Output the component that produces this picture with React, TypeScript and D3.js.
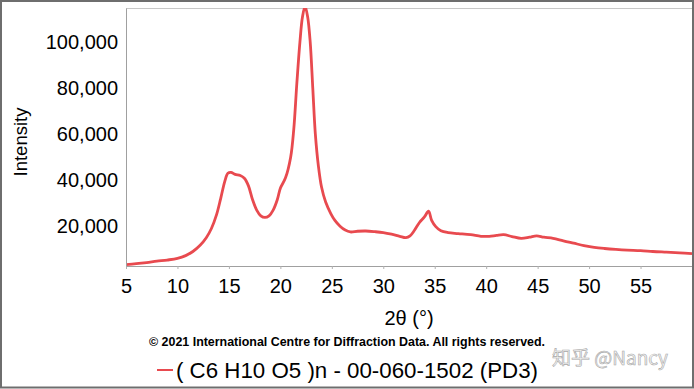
import React, { useEffect, useRef } from "react";
import * as d3 from "d3";

const twoTheta = [
  5.0, 6.0, 7.0, 8.0, 9.0, 10.0, 10.8, 11.5, 12.2, 12.8, 13.3, 13.8, 14.2, 14.6,
  14.9, 15.2, 15.6, 16.1, 16.5, 16.9, 17.3, 17.7, 18.1, 18.5, 18.9, 19.3, 19.7,
  20.0, 20.5, 21.0, 21.3, 21.6, 21.9, 22.15, 22.4, 22.65, 22.9, 23.15, 23.4,
  23.7, 24.0, 24.4, 24.9, 25.3, 25.8, 26.3, 26.8, 27.5, 28.3, 29.2, 30.0, 30.8,
  31.6, 32.2, 32.6, 33.0, 33.5, 34.0, 34.4, 34.7, 35.1, 35.6, 36.3, 37.3, 38.5,
  39.5, 40.3, 41.0, 41.7, 42.5, 43.4, 44.2, 44.9, 45.6, 46.5, 47.5, 48.5, 49.5,
  50.5, 51.5, 52.6, 53.7, 55.0, 56.2, 57.5, 58.8, 60.0,
];
const intensity = [
  3300, 3700, 4200, 4800, 5300, 6000, 7200, 9000, 11700, 15000, 19000, 25000,
  32000, 39500, 43000, 43400, 42500, 42000, 40800, 37500, 31500, 27000, 24500,
  23800, 24500, 27000, 31500, 36500, 41000, 50000, 62000, 82000, 100000, 111000,
  115500, 111000, 100000, 80000, 60000, 46000, 37000, 30500, 25500, 22500, 20000,
  18300, 17500, 17800, 17900, 17600, 17200, 16500, 15600, 15000, 15800, 18000,
  21500, 24000, 26500, 22500, 19800, 18000, 17200, 16800, 16300, 15600, 15600,
  16000, 16300, 15500, 14700, 15200, 15800, 15200, 14700, 13600, 12600, 11600,
  10800, 10300, 9900, 9600, 9400, 9000, 8700, 8400, 8100,
];
const xTicks = [5, 10, 15, 20, 25, 30, 35, 40, 45, 50, 55];
const yTicks = [20000, 40000, 60000, 80000, 100000];

const seriesLabel = "( C6 H10 O5 )n - 00-060-1502 (PD3)";
const copyright = "© 2021 International Centre for Diffraction Data. All rights reserved.";
const watermark = "知乎 @Nancy";

const W = 694;
const H = 389;
const margin = { top: 8, right: 2, bottom: 123, left: 126 };
const font = "'Liberation Sans', Arial, sans-serif";
const lineColor = "#e84a4f";

const App = () => {
  const ref = useRef<SVGSVGElement>(null);

  useEffect(() => {
    const svg = d3.select(ref.current);
    svg.selectAll("*").remove();

    const width = W - margin.left - margin.right;
    const height = H - margin.top - margin.bottom;

    const x = d3.scaleLinear().domain([5, 60]).range([0, width]);
    const y = d3.scaleLinear().domain([2700, 114800]).range([height, 0]);

    svg.append("rect").attr("width", W).attr("height", H).attr("fill", "#fff");

    const g = svg
      .append("g")
      .attr("transform", `translate(${margin.left},${margin.top})`);

    g.append("clipPath")
      .attr("id", "plot-clip")
      .append("rect")
      .attr("width", width)
      .attr("height", height);

    // top frame line
    g.append("line")
      .attr("x1", 0)
      .attr("x2", width)
      .attr("y1", 0.5)
      .attr("y2", 0.5)
      .attr("stroke", "#c8c8c8");

    const points = twoTheta.map((t, i) => [t, intensity[i]] as [number, number]);
    const line = d3
      .line<[number, number]>()
      .x((d) => x(d[0]))
      .y((d) => y(d[1]))
      .curve(d3.curveCatmullRom.alpha(0.5));

    g.append("path")
      .datum(points)
      .attr("clip-path", "url(#plot-clip)")
      .attr("fill", "none")
      .attr("stroke", lineColor)
      .attr("stroke-width", 2.8)
      .attr("stroke-linejoin", "round")
      .attr("d", line);

    // x axis
    const xAxis = g
      .append("g")
      .attr("transform", `translate(0,${height})`)
      .call(d3.axisBottom(x).tickValues(xTicks).tickSize(3).tickPadding(10));
    xAxis.select(".domain").attr("stroke", "#a0a0a0");
    xAxis.selectAll(".tick line").attr("stroke", "#b0b0b0");
    xAxis
      .selectAll("text")
      .attr("fill", "#000")
      .style("font-family", font)
      .style("font-size", "20px");

    // y axis
    const yAxis = g
      .append("g")
      .call(
        d3
          .axisLeft(y)
          .tickValues(yTicks)
          .tickSize(0)
          .tickPadding(8)
          .tickFormat(d3.format(","))
      );
    yAxis.select(".domain").attr("stroke", "#a0a0a0");
    yAxis
      .selectAll("text")
      .attr("fill", "#000")
      .style("font-family", font)
      .style("font-size", "20px");

    // axis titles
    svg
      .append("text")
      .attr("transform", "translate(27,142) rotate(-90)")
      .attr("text-anchor", "middle")
      .style("font-family", font)
      .style("font-size", "18.5px")
      .text("Intensity");

    svg
      .append("text")
      .attr("x", 409)
      .attr("y", 325)
      .attr("text-anchor", "middle")
      .style("font-family", font)
      .style("font-size", "20px")
      .text("2θ (°)");

    svg
      .append("text")
      .attr("x", 149)
      .attr("y", 346)
      .attr("textLength", 396)
      .attr("lengthAdjust", "spacingAndGlyphs")
      .style("font-family", font)
      .style("font-weight", "bold")
      .style("font-size", "12.5px")
      .text(copyright);

    // legend
    svg
      .append("line")
      .attr("x1", 157)
      .attr("x2", 173)
      .attr("y1", 370)
      .attr("y2", 370)
      .attr("stroke", lineColor)
      .attr("stroke-width", 2);
    svg
      .append("text")
      .attr("x", 176)
      .attr("y", 378)
      .attr("textLength", 362)
      .attr("lengthAdjust", "spacingAndGlyphs")
      .style("font-family", font)
      .style("font-size", "22px")
      .text(seriesLabel);

    // watermark
    svg
      .append("text")
      .attr("x", 552)
      .attr("y", 365)
      .attr("fill", "#f4f4f4")
      .attr("stroke", "#a8a8a8")
      .attr("stroke-width", 0.6)
      .style("font-family", "'Noto Sans CJK SC', sans-serif")
      .style("font-size", "19px")
      .text(watermark);

    // outer border
    svg
      .append("rect")
      .attr("x", 1)
      .attr("y", 1)
      .attr("width", W - 2)
      .attr("height", H - 2.5)
      .attr("fill", "none")
      .attr("stroke", "#6e6e6e")
      .attr("stroke-width", 2);
  }, []);

  return (
    <svg
      ref={ref}
      width={W}
      height={H}
      style={{ position: "absolute", left: 0, top: 0 }}
    />
  );
};

export default App;
